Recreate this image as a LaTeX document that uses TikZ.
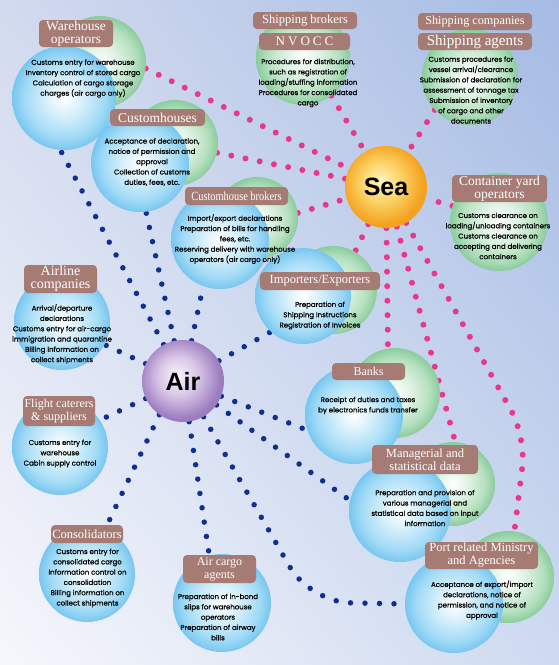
\documentclass[tikz,border=0pt]{standalone}
\usepackage{fontspec}
\usepackage{graphicx}
\usetikzlibrary{shadings}
\newfontfamily\bodyfont{Poppins}[BoldFont={Poppins}, BoldFeatures={FakeBold=0.8}]
\newfontfamily\titlefont{Liberation Serif}
\newfontfamily\hubfont{Liberation Sans}
\newcommand\ttlsize[1]{\titlefont\fontsize{#1}{13}\selectfont}

\definecolor{ttlbrown}{RGB}{166,123,116}
\definecolor{seapink}{RGB}{232,56,138}
\definecolor{airblue}{RGB}{14,48,146}
\definecolor{bgUL}{RGB}{210,218,238}
\definecolor{bgUR}{RGB}{165,187,228}
\definecolor{bgLL}{RGB}{246,247,252}
\definecolor{bgLR}{RGB}{206,218,240}
\definecolor{blueB}{RGB}{214,239,251}
\definecolor{blueC}{RGB}{162,219,246}
\definecolor{blueD}{RGB}{120,198,240}
\definecolor{greenB}{RGB}{224,243,228}
\definecolor{greenC}{RGB}{181,224,191}
\definecolor{greenD}{RGB}{138,204,156}
\definecolor{seaA}{RGB}{255,243,196}
\definecolor{seaB}{RGB}{252,212,104}
\definecolor{seaC}{RGB}{244,161,30}
\definecolor{airA}{RGB}{249,244,252}
\definecolor{airB}{RGB}{217,198,230}
\definecolor{airC}{RGB}{156,124,191}

\pgfdeclareradialshading{bluesphere}{\pgfpoint{0bp}{0bp}}{color(0bp)=(white); color(9bp)=(blueB); color(19bp)=(blueC); color(25bp)=(blueD); color(50bp)=(blueD)}
\pgfdeclareradialshading{greensphere}{\pgfpoint{0bp}{0bp}}{color(0bp)=(white); color(9bp)=(greenB); color(19bp)=(greenC); color(25bp)=(greenD); color(50bp)=(greenD)}
\pgfdeclareradialshading{seasphere}{\pgfpoint{-4bp}{4bp}}{color(0bp)=(seaA); color(12bp)=(seaB); color(25bp)=(seaC); color(50bp)=(seaC)}
\pgfdeclareradialshading{airsphere}{\pgfpoint{-4bp}{4bp}}{color(0bp)=(airA); color(12bp)=(airB); color(25bp)=(airC); color(50bp)=(airC)}

\pgfdeclarelayer{back}
\pgfdeclarelayer{dots}
\pgfsetlayers{back,dots,main}

\tikzset{
  bluesph/.style={circle, inner sep=0pt, minimum size=#1, shading=bluesphere},
  greensph/.style={circle, inner sep=0pt, minimum size=#1, shading=greensphere},
  hub/.style={circle, inner sep=0pt, minimum size=82pt, font=\hubfont\bfseries\fontsize{25}{25}\selectfont},
  ttl/.style={fill=ttlbrown, rounded corners=4pt, text=white, align=center, inner sep=0pt, font=\ttlsize{12.5}},
  txt/.style={align=center, inner sep=0pt, font=\bodyfont\bfseries\fontsize{7}{10.3}\selectfont},
  seadots/.style={draw=seapink, line width=6pt, line cap=round, dash pattern=on 0pt off 14.5pt},
  airdots/.style={draw=airblue, line width=5.5pt, line cap=round, dash pattern=on 0pt off 14.5pt}
}

\begin{document}
\begin{tikzpicture}[x=1pt, y=-1pt]
  \useasboundingbox (0,0) rectangle (559,665);
  \begin{pgfonlayer}{back}
    \shade[upper left=bgUL, upper right=bgUR, lower left=bgLL, lower right=bgLR] (0,0) rectangle (559,665);
  \end{pgfonlayer}

  % circles
  \node[greensph=92pt] (whG) at (100,62) {};
  \node[bluesph=104pt] (whB) at (64,98) {};
  \node[greensph=86pt] (chG) at (175,143) {};
  \node[bluesph=98pt]  (chB) at (140,163) {};
  \node[greensph=82pt] (cbG) at (257,218) {};
  \node[bluesph=98pt]  (cbB) at (220,240) {};
  \node[greensph=88pt] (ieG) at (333,290) {};
  \node[bluesph=96pt]  (ieB) at (303,296) {};
  \node[greensph=90pt] (bkG) at (395,393) {};
  \node[bluesph=98pt]  (bkB) at (354,415) {};
  \node[greensph=84pt] (msG) at (453,484) {};
  \node[bluesph=102pt] (msB) at (400,511) {};
  \node[greensph=92pt] (prG) at (508,577) {};
  \node[bluesph=98pt]  (prB) at (454,604) {};
  \node[greensph=94pt] (nvG) at (303,58) {};
  \node[greensph=96pt] (saG) at (470,77) {};
  \node[greensph=98pt] (cyG) at (499,222) {};
  \node[bluesph=96pt]  (alB) at (62,322) {};
  \node[bluesph=96pt]  (fcB) at (60,447) {};
  \node[bluesph=96pt]  (coB) at (87,574) {};
  \node[bluesph=98pt]  (acB) at (222,603) {};
  \node[hub, shading=seasphere] (sea) at (386,187) {Sea};
  \node[hub, shading=airsphere] (air) at (183,381) {Air};

  % titles
  \node[ttl, minimum width=74pt, minimum height=27pt, font=\ttlsize{13.5}] (whT) at (76,33.5) {Warehouse\\operators};
  \node[ttl, minimum width=95pt, minimum height=17pt, font=\ttlsize{13.5}] (chT) at (157.5,117.5) {Customhouses};
  \node[ttl, minimum width=103pt, minimum height=18pt] (cbT) at (236.5,196) {\scalebox{0.83}[1]{Customhouse brokers}};
  \node[ttl, minimum width=120pt, minimum height=18pt] (ieT) at (320,281) {Importers/Exporters};
  \node[ttl, minimum width=73pt, minimum height=17pt, font=\ttlsize{12}] (bkT) at (368.5,371.5) {Banks};
  \node[ttl, minimum width=106pt, minimum height=29pt] (msT) at (425,459.5) {Managerial and\\statistical data};
  \node[ttl, minimum width=113pt, minimum height=27pt] (prT) at (481.5,555.5) {Port related Ministry\\and Agencies};
  \node[ttl, minimum width=104pt, minimum height=17pt] (sbT) at (305,20.5) {Shipping brokers};
  \node[ttl, minimum width=91pt, minimum height=17pt, font=\ttlsize{13}] (nvT) at (304.5,41.5) {N\kern3pt V\kern3pt O\kern3pt C\kern3pt C};
  \node[ttl, minimum width=114pt, minimum height=17pt, font=\ttlsize{12.2}] (scT) at (475,21.5) {Shipping companies};
  \node[ttl, minimum width=114pt, minimum height=17pt, font=\ttlsize{15}] (saT) at (475,41.5) {Shipping agents};
  \node[ttl, minimum width=95pt, minimum height=27pt, font=\ttlsize{13.5}] (cyT) at (499.5,188.5) {Container yard\\operators};
  \node[ttl, minimum width=73pt, minimum height=28pt, font=\ttlsize{14}] (alT) at (60.5,279) {Airline\\companies};
  \node[ttl, minimum width=72pt, minimum height=30pt, font=\ttlsize{12}] (fcT) at (59,411) {Flight caterers\\\&\ suppliers};
  \node[ttl, minimum width=72pt, minimum height=18pt] (coT) at (87,534) {Consolidators};
  \node[ttl, minimum width=73pt, minimum height=28pt, font=\ttlsize{12}] (acT) at (219.5,569) {Air cargo\\agents};

  % texts
  \node[txt] (whX) at (83,78.5) {Customs entry for warehouse\\Inventory control of stored cargo\\Calculation of cargo storage\\charges (air cargo only)};
  \node[txt] (chX) at (152,162) {Acceptance of declaration,\\notice of permission and\\approval\\Collection of customs\\duties, fees, etc.};
  \node[txt] (cbX) at (235,239) {Import/export declarations\\Preparation of bills for handling\\fees, etc.\\Reserving delivery with warehouse\\operators (air cargo only)};
  \node[txt] (ieX) at (320,315.5) {Preparation of\\Shipping Instructions\\Registration of Invoices};
  \node[txt] (bkX) at (368,405.5) {Receipt of duties and taxes\\by electronics funds transfer};
  \node[txt] (msX) at (425,508) {Preparation and provision of\\various managerial and\\statistical data based on input\\information};
  \node[txt] (prX) at (482,600) {Acceptance of export/import\\declarations, notice of\\permission, and notice of\\approval};
  \node[txt] (nvX) at (308,83) {Procedures for distribution,\\such as registration of\\loading/stuffing information\\Procedures for consolidated\\cargo};
  \node[txt] (saX) at (471,90) {Customs procedures for\\vessel arrival/clearance\\Submission of declaration for\\assessment of tonnage tax\\Submission of inventory\\of cargo and other\\documents};
  \node[txt] (cyX) at (498,236) {Customs clearance on\\loading/unloading containers\\Customs clearance on\\accepting and delivering\\containers};
  \node[txt] (alX) at (62,334) {Arrival/departure\\declarations\\Customs entry for air-cargo\\immigration and quarantine\\Billing information on\\collect shipments};
  \node[txt] (fcX) at (60,453.5) {Customs entry for\\warehouse\\Cabin supply control};
  \node[txt] (coX) at (87.5,578) {Customs entry for\\consolidated cargo\\Information control on\\consolidation\\Billing information on\\collect shipments};
  \node[txt] (acX) at (218,617) {Preparation of in-bond\\slips for warehouse\\operators\\Preparation of airway\\bills};

  % dotted links
  \begin{pgfonlayer}{dots}
    \path[every edge/.style={seadots}]
    (whG.-8)   edge (sea)
    (chG.-13)  edge (sea)
    (cbG.7)    edge (sea)
    (nvG.-53)  edge (sea)
    (saG.-137) edge (sea)
    (cyG.161)  edge (sea)
    (sea) edge (ieG.60)
    (sea) edge (bkG.99)
    (sea) edge (msG.87);
    \draw[seadots, rounded corners=30pt] (sea) -- (526,437) -- (prG.82);

    \path[every edge/.style={airdots}]
    (air) edge (whB.-94)
    (air) edge (chB.-83)
    (air) edge (cbB.-110)
    (air) edge (alB.-28)
    (air) edge (fcB.34)
    (air.-125) edge (coB.68)
    (air) edge (acB.105)
    (air) edge (ieB.-132)
    (air) edge (bkB.-162)
    (air) edge (msB.168);
    \draw[airdots, rounded corners=40pt] (air) -- (310,602) -- (prB.180);
  \end{pgfonlayer}
\end{tikzpicture}
\end{document}
